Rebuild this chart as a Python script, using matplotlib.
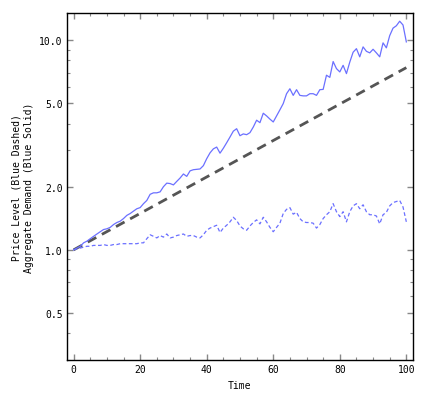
import matplotlib
matplotlib.use("Agg")
import matplotlib.pyplot as plt
from matplotlib.ticker import FixedLocator, FixedFormatter

# Datos (t = 0..100)
tiempo = list(range(101))

demanda_agregada = [
    1.00, 1.02, 1.04, 1.08, 1.10, 1.13, 1.16, 1.19, 1.22, 1.25,
    1.26, 1.28, 1.32, 1.35, 1.37, 1.41, 1.46, 1.49, 1.53, 1.57,
    1.59, 1.66, 1.72, 1.84, 1.87, 1.87, 1.89, 2.00, 2.08, 2.07,
    2.04, 2.12, 2.20, 2.30, 2.24, 2.38, 2.41, 2.42, 2.43, 2.52,
    2.72, 2.90, 3.03, 3.09, 2.89, 3.05, 3.24, 3.45, 3.68, 3.78,
    3.50, 3.57, 3.54, 3.62, 3.85, 4.15, 4.04, 4.48, 4.35, 4.20,
    4.07, 4.35, 4.65, 4.98, 5.55, 5.86, 5.45, 5.80, 5.45, 5.42,
    5.42, 5.55, 5.55, 5.45, 5.80, 5.82, 6.80, 6.64, 7.90, 7.31,
    7.05, 7.58, 6.92, 7.85, 8.75, 9.10, 8.32, 9.28, 8.84, 8.69,
    9.04, 8.69, 8.32, 9.70, 9.18, 10.5, 11.4, 11.7, 12.3, 11.8,
    9.80,
]

nivel_precios = [
    1.00, 1.01, 1.02, 1.03, 1.04, 1.04, 1.05, 1.05, 1.05, 1.06,
    1.05, 1.05, 1.06, 1.06, 1.07, 1.07, 1.07, 1.07, 1.07, 1.07,
    1.08, 1.08, 1.13, 1.18, 1.16, 1.14, 1.17, 1.15, 1.19, 1.14,
    1.15, 1.17, 1.18, 1.19, 1.16, 1.17, 1.17, 1.15, 1.14, 1.18,
    1.24, 1.27, 1.29, 1.31, 1.21, 1.27, 1.31, 1.36, 1.43, 1.38,
    1.30, 1.26, 1.24, 1.30, 1.35, 1.39, 1.33, 1.43, 1.36, 1.28,
    1.22, 1.28, 1.34, 1.49, 1.56, 1.59, 1.48, 1.51, 1.41, 1.36,
    1.35, 1.35, 1.34, 1.27, 1.32, 1.41, 1.47, 1.52, 1.66, 1.52,
    1.44, 1.52, 1.36, 1.52, 1.62, 1.66, 1.57, 1.64, 1.52, 1.47,
    1.47, 1.45, 1.33, 1.47, 1.51, 1.62, 1.68, 1.70, 1.72, 1.60,
    1.36,
]

# Tendencia (línea gris discontinua)
tendencia_t = [0, 100]
tendencia_v = [1.0, 7.39]

y_mayores = [0.5, 1.0, 2.0, 5.0, 10.0]
y_etiquetas = ["0.5", "1.0", "2.0", "5.0", "10.0"]
y_menores = [0.3, 0.4, 0.6, 0.7, 0.8, 0.9, 3, 4, 6, 7, 8, 9]
x_mayores = [0, 20, 40, 60, 80, 100]

azul = "#6b70ff"
fuente = "DejaVu Sans Mono"

fig = plt.figure(figsize=(4.32, 4.02), dpi=100)
ax = fig.add_axes([0.155, 0.102, 0.801, 0.863])

ax.plot(tendencia_t, tendencia_v, color="#555555", lw=2.0,
        dashes=(3.5, 2.3), zorder=2)
ax.plot(tiempo, nivel_precios, color=azul, lw=0.9, dashes=(3, 2), zorder=3)
ax.plot(tiempo, demanda_agregada, color=azul, lw=0.9, zorder=4)

ax.set_yscale("log")
ax.set_xlim(-2, 102)
ax.set_ylim(0.2985, 13.45)

ax.yaxis.set_major_locator(FixedLocator(y_mayores))
ax.yaxis.set_major_formatter(FixedFormatter(y_etiquetas))
ax.yaxis.set_minor_locator(FixedLocator(y_menores))
ax.yaxis.set_minor_formatter(FixedFormatter([]))
ax.xaxis.set_major_locator(FixedLocator(x_mayores))
ax.xaxis.set_minor_locator(FixedLocator([t for t in range(5, 100, 5) if t % 20]))

ax.tick_params(which="both", direction="in", top=True, right=True,
               color="#888888", labelsize=7, pad=3)
ax.tick_params(which="major", length=4.5, width=1.0)
ax.tick_params(which="minor", length=2.0, width=0.8)

for lab in ax.get_xticklabels() + ax.get_yticklabels():
    lab.set_family(fuente)

for s in ax.spines.values():
    s.set_linewidth(1.0)
    s.set_color("black")

ax.set_xlabel("Time", family=fuente, fontsize=7, labelpad=4)
ax.set_ylabel("Price Level (Blue Dashed)\nAggregate Demand (Blue Solid)",
              family=fuente, fontsize=7, labelpad=4, linespacing=1.3)

fig.savefig("out.png", dpi=100)
